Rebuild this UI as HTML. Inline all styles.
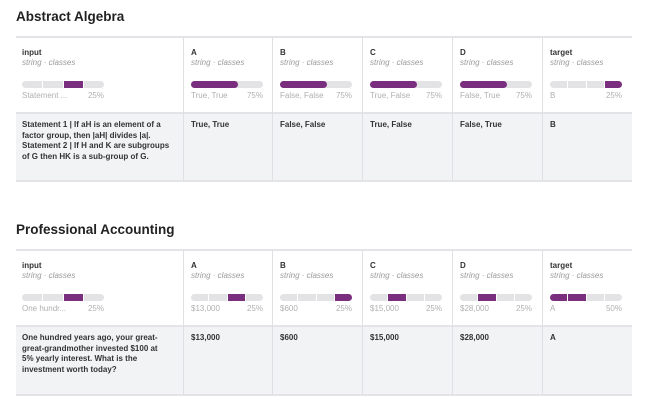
<!DOCTYPE html>
<html><head><meta charset="utf-8"><style>
body{margin:0;width:650px;height:410px;background:#fff;font-family:"Liberation Sans",sans-serif;position:relative;overflow:hidden}
.t{position:absolute;left:16px;font-weight:bold;font-size:13.5px;color:#222}
.tbl{position:absolute;left:16px;width:616px;border-top:2px solid #e4e4e8;border-bottom:2px solid #e4e4e8}
.col{position:absolute;top:0;bottom:0;border-left:1px solid #e0e0e4}
.body{position:absolute;left:0;right:0;bottom:0;background:#f2f3f5;border-top:2px solid #e4e4e8}
.h{position:absolute;font-size:8px;font-weight:bold;color:#333}
.s{position:absolute;font-size:8px;font-style:italic;color:#999}
.l{position:absolute;font-size:8px;color:#b0b0b0}
.v{position:absolute;font-size:8px;color:#333;line-height:10.5px;font-weight:bold}
.seg{position:absolute;height:7px;background:#e3e3e6}
.f{background:#7a2e7e}
</style></head><body>
<div class="t" style="top:9px">Abstract Algebra</div>
<div class="t" style="top:222px">Professional Accounting</div>
<script>
const cols=[16,183,272,362,452,542,632];
function table(top,h,bh,heads,labels,pcts,fills,cont,vals){
  let html=`<div class="tbl" style="top:${top}px;height:${h}px"><div class="body" style="height:${bh}px"></div>`;
  for(let i=1;i<6;i++)html+=`<div class="col" style="left:${cols[i]-16}px"></div>`;
  html+='</div>';
  for(let i=0;i<6;i++){
    const x=cols[i]+(i==0?6:8);
    const w=i==0?82:72;
    html+=`<div class="h" style="left:${x}px;top:${top+12}px">${heads[i]}</div>`;
    html+=`<div class="s" style="left:${x}px;top:${top+22}px">string · classes</div>`;
    const by=top+45;
    if(cont[i]){
      html+=`<div class="seg" style="left:${x}px;top:${by}px;width:${w}px;border-radius:3.5px"></div>`;
      html+=`<div class="seg f" style="left:${x}px;top:${by}px;width:${w*0.65}px;border-radius:3.5px"></div>`;
    } else {
      const sw=(w-3)/4;
      for(let k=0;k<4;k++){
        const r=k==0?'3.5px 0 0 3.5px':k==3?'0 3.5px 3.5px 0':'0';
        html+=`<div class="seg${fills[i].includes(k)?' f':''}" style="left:${x+k*(sw+1)}px;top:${by}px;width:${sw}px;border-radius:${r}"></div>`;
      }
    }
    html+=`<div class="l" style="left:${x}px;top:${by+10}px">${labels[i]}</div>`;
    html+=`<div class="l" style="left:${x+w-20}px;width:20px;text-align:right;top:${by+10}px">${pcts[i]}</div>`;
    html+=`<div class="v" style="left:${x}px;top:${top+h-bh+8}px;width:${i==0?148:cols[i+1]-x-6}px">${vals[i]}</div>`;
  }
  document.write(html);
}
table(36,142,66,['input','A','B','C','D','target'],
 ['Statement ...','True, True','False, False','True, False','False, True','B'],
 ['25%','75%','75%','75%','75%','25%'],
 [[2],[],[],[],[],[3]],[0,1,1,1,1,0],
 ['Statement 1 | If aH is an element of a factor group, then |aH| divides |a|. Statement 2 | If H and K are subgroups of G then HK is a sub-group of G.','True, True','False, False','True, False','False, True','B']);
table(249,143,67,['input','A','B','C','D','target'],
 ['One hundr...','$13,000','$600','$15,000','$28,000','A'],
 ['25%','25%','25%','25%','25%','50%'],
 [[2],[2],[3],[1],[1],[0,1]],[0,0,0,0,0,0],
 ['One hundred years ago, your great-great-grandmother invested $100 at 5% yearly interest. What is the investment worth today?','$13,000','$600','$15,000','$28,000','A']);
</script>
</body></html>
